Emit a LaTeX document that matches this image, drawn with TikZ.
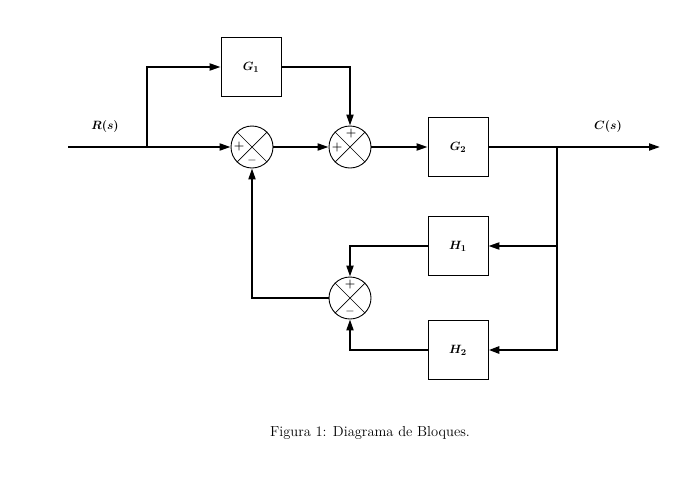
\documentclass[tikz,border=0pt]{standalone}
\usepackage{amsmath,amssymb,bm}
\usetikzlibrary{arrows.meta}
\begin{document}
\begin{tikzpicture}[x=1pt,y=-1pt,
  blk/.style={draw,line width=0.8pt,minimum width=60pt,minimum height=59pt,inner sep=0pt,font=\fontsize{13}{15}\selectfont},
  sum/.style={draw,circle,line width=0.9pt,minimum size=42pt,inner sep=0pt},
  sig/.style={line width=2pt,-{Triangle[length=11pt,width=7pt]}},
  ln/.style={line width=2pt},
  sgn/.style={font=\fontsize{12}{14}\selectfont\bfseries}]
\useasboundingbox (0,0) rectangle (696,477);
\node[blk] (g1) at (251,67) {$\bm{G_1}$};
\node[blk] (g2) at (458,147) {$\bm{G_2}$};
\node[blk] (h1) at (458,246) {$\bm{H_1}$};
\node[blk] (h2) at (458,350) {$\bm{H_2}$};
\node[sum] (s1) at (252,147) {};
\node[sum] (s2) at (350,147) {};
\node[sum] (s3) at (350,298) {};
\foreach \s in {s1,s2,s3}{
  \draw[line width=0.7pt] (\s.north west)--(\s.south east) (\s.north east)--(\s.south west);}
\node[sgn] at (239,147) {+};
\node[sgn] at (252,160) {$-$};
\node[sgn] at (337,148) {+};
\node[sgn] at (351,134) {+};
\node[sgn] at (350,285) {+};
\node[sgn] at (350,311) {$-$};
\coordinate (in) at (68,147);
\coordinate (br) at (147,147);
\coordinate (out) at (660,147);
\coordinate (bo) at (557,147);
\node[font=\fontsize{13}{15}\selectfont] (R) at (105,126) {$\bm{R(s)}$};
\node[font=\fontsize{13}{15}\selectfont] (C) at (608,126) {$\bm{C(s)}$};
\draw[ln] (in)--(br);
\draw[sig] (br)--(s1.west);
\draw[sig] (br)|-(g1.west);
\draw[sig] (g1.east)-|(s2.north);
\draw[sig] (s1.east)--(s2.west);
\draw[sig] (s2.east)--(g2.west);
\draw[sig] (g2.east)--(out);
\draw[sig] (bo)|-(h1.east);
\draw[sig,line width=2.8pt] (bo)|-(h2.east);
\draw[sig] (h1.west)-|(s3.north);
\draw[sig] (h2.west)-|(s3.south);
\draw[sig] (s3.west)-|(s1.south);
\node[font=\fontsize{14.5}{17}\selectfont] (cap) at (370,433) {Figura 1: Diagrama de Bloques.};
\end{tikzpicture}
\end{document}
